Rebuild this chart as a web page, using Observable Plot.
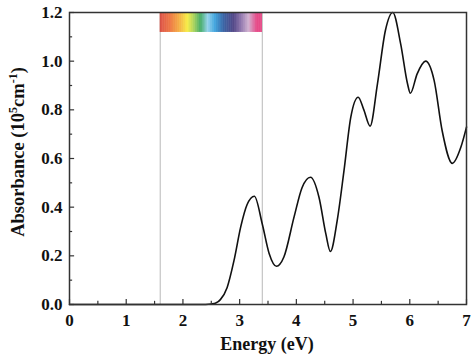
<!DOCTYPE html>
<html><head><meta charset="utf-8">
<script src="https://cdn.jsdelivr.net/npm/d3@7"></script>
<script src="https://cdn.jsdelivr.net/npm/@observablehq/plot@0.6"></script>
<style>
body{margin:0;background:#fff;}
svg{font-family:"Liberation Serif","Times New Roman",serif;}
</style></head>
<body><div id="chart"></div>
<script>
const energy = [0, 2.40, 2.50, 2.58, 2.66, 2.78, 2.90, 3.02, 3.13, 3.26, 3.40, 3.52, 3.65, 3.78, 3.96, 4.10, 4.25, 4.40, 4.52, 4.60, 4.72, 4.84, 4.96, 5.09, 5.19, 5.30, 5.43, 5.57, 5.70, 5.84, 5.96, 6.01, 6.13, 6.28, 6.43, 6.57, 6.75, 6.90, 7.0];
const absorb = [0, 0, 0.002, 0.006, 0.02, 0.07, 0.18, 0.32, 0.41, 0.445, 0.33, 0.21, 0.157, 0.195, 0.36, 0.48, 0.523, 0.44, 0.29, 0.218, 0.345, 0.55, 0.77, 0.852, 0.80, 0.733, 0.907, 1.126, 1.2, 1.07, 0.907, 0.868, 0.948, 1.0, 0.92, 0.715, 0.58, 0.646, 0.729];
const visibleRange = [1.6, 3.4];
const spectrumStops = [0, 0.1, 0.2, 0.27, 0.33, 0.4, 0.47, 0.54, 0.63, 0.72, 0.8, 0.87, 0.95, 1];
const spectrumColors = ["#d42a1e", "#ea5a1c", "#f2a41a", "#f6e81e", "#9ccc38", "#1c9a46", "#7cc8e6", "#1590d6", "#0f3f8e", "#2a1e6c", "#7a5a9c", "#c6a0c6", "#e0206c", "#e0206c"];
const spectrumTop = 1.2, spectrumBottom = 1.118;
const xTicks = [0, 1, 2, 3, 4, 5, 6, 7];
const yTicks = [0, 0.2, 0.4, 0.6, 0.8, 1.0, 1.2];
const xMinor = [0.5, 1.5, 2.5, 3.5, 4.5, 5.5, 6.5];
const yMinor = [0.1, 0.3, 0.5, 0.7, 0.9, 1.1];

const curve = energy.map((e, i) => ({e, a: absorb[i]}));
const nSeg = 150;
const colorAt = d3.scaleLinear().domain(spectrumStops).range(spectrumColors).interpolate(d3.interpolateRgb);
const segs = d3.range(nSeg).map(i => ({
  x1: visibleRange[0] + (visibleRange[1] - visibleRange[0]) * i / nSeg,
  x2: visibleRange[0] + (visibleRange[1] - visibleRange[0]) * (i + 1.05) / nSeg,
  c: colorAt((i + 0.5) / nSeg)
}));
// inward tick lengths expressed in data units
const xTickLen = 0.021, xMinorLen = 0.013, yTickLen = 0.09, yMinorLen = 0.055;

const plot = Plot.plot({
  width: 474, height: 358,
  marginLeft: 69, marginRight: 8, marginTop: 12, marginBottom: 54,
  style: {fontFamily: "Liberation Serif, serif", background: "#fff"},
  x: {domain: [0, 7], label: null},
  y: {domain: [0, 1.2], label: null},
  marks: [
    Plot.ruleX(visibleRange, {stroke: "#c4c4c4", strokeWidth: 1.2}),
    Plot.rectY(segs, {x1: "x1", x2: "x2", y1: spectrumBottom, y2: spectrumTop, fill: "c"}),
    Plot.line(curve, {x: "e", y: "a", curve: "monotone-x", stroke: "#111", strokeWidth: 1.6}),
    Plot.ruleX(xTicks, {y1: 0, y2: xTickLen, stroke: "#333", strokeWidth: 1.2}),
    Plot.ruleX(xMinor, {y1: 0, y2: xMinorLen, stroke: "#333", strokeWidth: 1.2}),
    Plot.ruleY(yTicks, {x1: 0, x2: yTickLen, stroke: "#333", strokeWidth: 1.2}),
    Plot.ruleY(yMinor, {x1: 0, x2: yMinorLen, stroke: "#333", strokeWidth: 1.2}),
    Plot.axisX(xTicks, {tickSize: 0, tickPadding: 9, fontSize: 17, fontWeight: "bold", fill: "#111", label: null, tickFormat: d => d}),
    Plot.axisY(yTicks, {tickSize: 0, tickPadding: 7, fontSize: 17, fontWeight: "bold", fill: "#111", label: null, tickFormat: d3.format(".1f")}),
    Plot.frame({stroke: "#333", strokeWidth: 1.5})
  ]
});
const svg = d3.select(plot);
svg.append("text").attr("x", 267).attr("y", 350).attr("text-anchor", "middle")
  .attr("font-size", 18).attr("font-weight", "bold").attr("fill", "#111").text("Energy (eV)");
const yl = svg.append("text").attr("transform", "translate(24,152) rotate(-90)").attr("text-anchor", "middle")
  .attr("font-size", 18.5).attr("font-weight", "bold").attr("fill", "#111");
yl.append("tspan").text("Absorbance (10");
yl.append("tspan").attr("dy", -7).attr("font-size", 12).text("5");
yl.append("tspan").attr("dy", 7).text("cm");
yl.append("tspan").attr("dy", -7).attr("font-size", 12).text("-1");
yl.append("tspan").attr("dy", 7).text(")");
document.getElementById("chart").appendChild(plot);
</script></body></html>
